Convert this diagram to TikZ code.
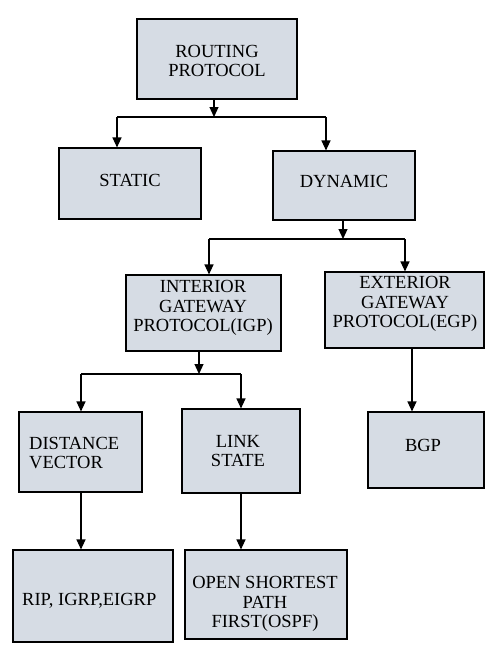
\documentclass[tikz,border=0pt]{standalone}
\usepackage{fontspec}
\setmainfont{Liberation Serif}
\usetikzlibrary{arrows.meta}
\definecolor{boxfill}{HTML}{D6DCE4}
\begin{document}
\begin{tikzpicture}[x=1pt,y=-1pt,
  box/.style={draw=black,fill=boxfill,line width=1.1pt,inner sep=0pt},
  txt/.style={font=\fontsize{18.5}{19.5}\selectfont,align=center,inner sep=0pt},
  ln/.style={line width=1.2pt},
  arr/.style={line width=1.2pt,-{Triangle[length=10pt,width=9pt]}}]
\useasboundingbox (0,0) rectangle (498,651);
% boxes
\node[box,minimum width=160pt,minimum height=80pt] (root) at (217,59) {};
\node[box,minimum width=142pt,minimum height=71pt] (static) at (130,183.5) {};
\node[box,minimum width=142pt,minimum height=69pt] (dynamic) at (344,185.5) {};
\node[box,minimum width=155pt,minimum height=76pt] (igp) at (203.5,313) {};
\node[box,minimum width=159pt,minimum height=76pt] (egp) at (404.5,310) {};
\node[box,minimum width=123pt,minimum height=80pt] (dv) at (80.5,452) {};
\node[box,minimum width=118pt,minimum height=84pt] (ls) at (241,451) {};
\node[box,minimum width=116pt,minimum height=76pt] (bgp) at (426,450) {};
\node[box,minimum width=160pt,minimum height=92pt] (rip) at (93,596) {};
\node[box,minimum width=162pt,minimum height=89pt] (ospf) at (266,594.5) {};
% texts
\node[txt] (root-t) at (217,61) {ROUTING\\PROTOCOL};
\node[txt] (static-t) at (130,180) {STATIC};
\node[txt] (dynamic-t) at (344,181) {DYNAMIC};
\node[txt] (igp-t) at (203,308) {INTERIOR\\GATEWAY\\PROTOCOL(IGP)};
\node[txt] (egp-t) at (405,304) {EXTERIOR\\GATEWAY\\PROTOCOL(EGP)};
\node[txt,align=left,anchor=west] (dv-t) at (29,453) {DISTANCE\\VECTOR};
\node[txt] (ls-t) at (238,451) {LINK\\STATE};
\node[txt] (bgp-t) at (423,445) {BGP};
\node[txt,anchor=west] (rip-t) at (22,601) {RIP, IGRP,EIGRP};
\node[txt] (ospf-t) at (265,604) {OPEN SHORTEST\\PATH\\FIRST(OSPF)};
% junction coordinates
\coordinate (j1) at (214,117);
\coordinate (j1l) at (117,117);
\coordinate (j1r) at (326,117);
\coordinate (j2) at (343,239);
\coordinate (j2l) at (209,239);
\coordinate (j2r) at (405,239);
\coordinate (j3) at (199,374);
\coordinate (j3l) at (81,374);
\coordinate (j3r) at (241,374);
\coordinate (e1) at (412,348);
\coordinate (d1) at (81,492);
% connectors
\draw[arr] (j1 |- root.south) -- (j1);
\draw[ln] (j1l) -- (j1r);
\draw[arr] (j1l) -- (j1l |- static.north);
\draw[arr] (j1r) -- (j1r |- dynamic.north);
\draw[arr] (j2 |- dynamic.south) -- (j2);
\draw[ln] (j2l) -- (j2r);
\draw[arr] (j2l) -- (j2l |- igp.north);
\draw[arr] (j2r) -- (j2r |- egp.north);
\draw[arr] (j3 |- igp.south) -- (j3);
\draw[ln] (j3l) -- (j3r);
\draw[arr] (j3l) -- (j3l |- dv.north);
\draw[arr] (j3r) -- (j3r |- ls.north);
\draw[arr] (e1 |- egp.south) -- (e1 |- bgp.north);
\draw[arr] (d1 |- dv.south) -- (d1 |- rip.north);
\draw[arr] (ls.south) -- (ls.south |- ospf.north);
\end{tikzpicture}
\end{document}
